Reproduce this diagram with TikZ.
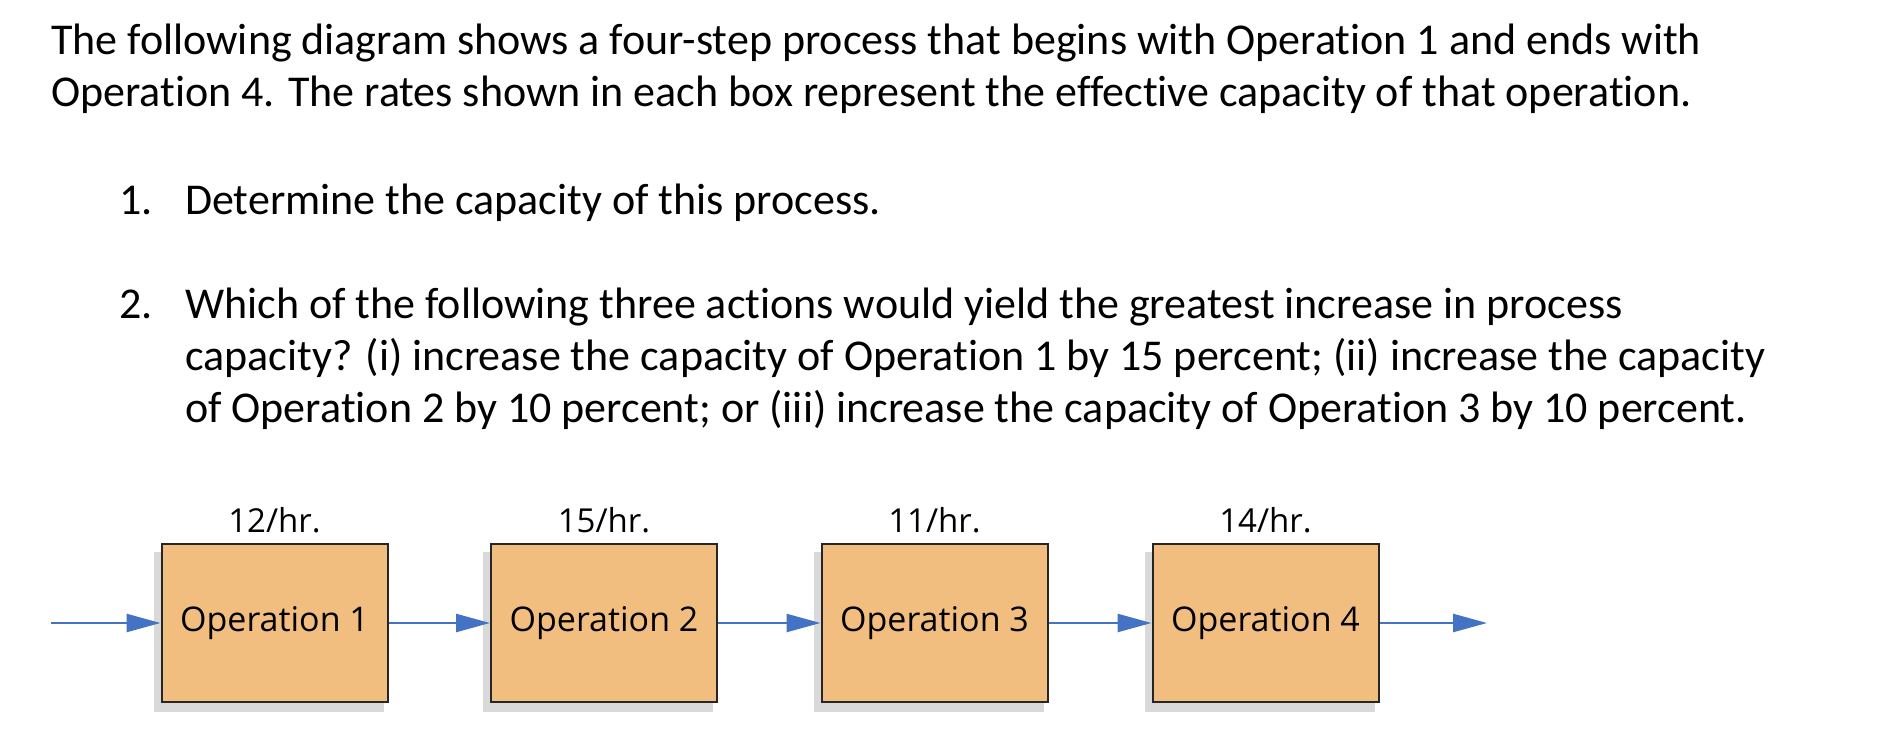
\documentclass[tikz,border=0pt]{standalone}
\usepackage{fontspec}
\setmainfont{Carlito}[RawFeature=-liga]
\newfontfamily\boxfont{Open Sans}
\usetikzlibrary{arrows.meta}
\begin{document}
\begin{tikzpicture}[x=1pt,y=-1pt,
  txt/.style={anchor=base west,inner sep=0pt,font=\fontsize{44}{52}\selectfont},
  opbox/.style={draw=black!85,line width=2pt,minimum width=226pt,minimum height=158pt,inner sep=0pt,font=\boxfont\fontsize{34}{40}\selectfont},
  rate/.style={font=\boxfont\fontsize{33}{40}\selectfont,inner sep=0pt},
  flow/.style={draw={rgb,255:red,68;green,114;blue,196},line width=2.5pt,-{Triangle[length=34pt,width=18pt]}}]
\definecolor{opfill}{RGB}{242,190,128}
\useasboundingbox (0,0) rectangle (1904,754);
\node[txt] (l1) at (51,55) {The following diagram shows a four-step process that begins with Operation 1 and ends with};
\node[txt] (l2) at (51,107) {Operation 4. The rates shown in each box represent the effective capacity of that operation.};
\node[txt] (n1) at (119,215) {1.};
\node[txt] (i1) at (185,215) {Determine the capacity of this process.};
\node[txt] (n2) at (119,318) {2.};
\node[txt] (i2a) at (185,318) {Which of the following three actions would yield the greatest increase in process};
\node[txt] (i2b) at (185,370) {capacity? (i) increase the capacity of Operation 1 by 15 percent; (ii) increase the capacity};
\node[txt] (i2c) at (185,422) {of Operation 2 by 10 percent; or (iii) increase the capacity of Operation 3 by 10 percent.};
\foreach \n/\x/\r in {1/274.5/12, 2/604/15, 3/934.5/11, 4/1265.5/14}{
  \fill[black!15] (\x-113+-8,623-79+8) rectangle (\x+113-4,623+79+10);
  \node[opbox,fill=opfill] (op\n) at (\x,623) {Operation \n};
  \node[rate] (r\n) at (\x,520) {\r/hr.};
}
\coordinate (in) at (51,623);
\coordinate (out) at (1487,623);
\draw[flow] (in) -- (op1.west);
\draw[flow] (op1.east) -- (op2.west);
\draw[flow] (op2.east) -- (op3.west);
\draw[flow] (op3.east) -- (op4.west);
\draw[flow] (op4.east) -- (out);
\end{tikzpicture}
\end{document}
